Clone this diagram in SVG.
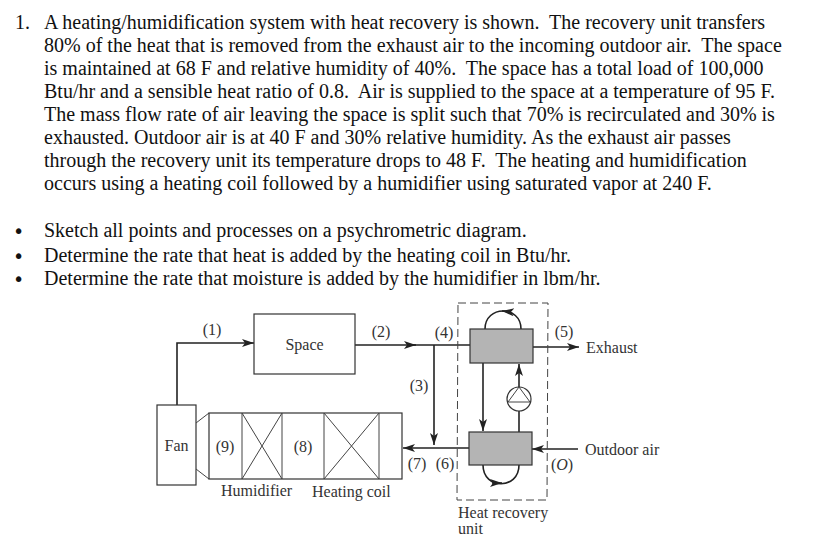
<svg xmlns="http://www.w3.org/2000/svg" width="821" height="556" viewBox="0 0 821 556">
<defs>
<marker id="a" markerWidth="14" markerHeight="10" refX="12" refY="4" orient="auto" markerUnits="userSpaceOnUse"><path d="M0 0L12 4L0 8L3 4Z" fill="#222"/></marker>
</defs>
<style>
.t{font-family:"Liberation Serif","Times New Roman",serif;font-size:20px;fill:#111;white-space:pre}
.u{font-family:"DejaVu Sans",sans-serif;font-size:19px;fill:#111}
.l{font-family:"Liberation Serif","Times New Roman",serif;font-size:16px;fill:#333}
.b{fill:#fff;stroke:#333;stroke-width:1.2}
.h{fill:#b4b4b4;stroke:#333;stroke-width:1.2}
.c{fill:none;stroke:#222;stroke-width:1.6}
.d{fill:none;stroke:#444;stroke-width:1;stroke-dasharray:8 4}
.n{fill:none;stroke:#444;stroke-width:1}
</style>
<rect width="821" height="556" fill="#fff"/>
<g id="problem-text">
<text class="t" x="15" y="29">1.</text>
<text class="t" x="44" y="29">A heating/humidification system with heat recovery is shown.  The recovery unit transfers</text>
<text class="t" x="44" y="52">80% of the heat that is removed from the exhaust air to the incoming outdoor air.  The space</text>
<text class="t" x="44" y="75">is maintained at 68 F and relative humidity of 40%.  The space has a total load of 100,000</text>
<text class="t" x="44" y="98">Btu/hr and a sensible heat ratio of 0.8.  Air is supplied to the space at a temperature of 95 F.</text>
<text class="t" x="44" y="121">The mass flow rate of air leaving the space is split such that 70% is recirculated and 30% is</text>
<text class="t" x="44" y="144">exhausted. Outdoor air is at 40 F and 30% relative humidity. As the exhaust air passes</text>
<text class="t" x="44" y="167">through the recovery unit its temperature drops to 48 F.  The heating and humidification</text>
<text class="t" x="44" y="190">occurs using a heating coil followed by a humidifier using saturated vapor at 240 F.</text>
<text class="u" x="13" y="238">•</text>
<text class="t" x="44" y="237">Sketch all points and processes on a psychrometric diagram.</text>
<text class="u" x="13" y="263">•</text>
<text class="t" x="44" y="262">Determine the rate that heat is added by the heating coil in Btu/hr.</text>
<text class="u" x="13" y="286">•</text>
<text class="t" x="44" y="285">Determine the rate that moisture is added by the humidifier in lbm/hr.</text>
</g>
<g id="connectors">
<path class="c" d="M177 405V343H254" marker-end="url(#a)"/>
<path class="c" d="M355 345H416" marker-end="url(#a)"/>
<path class="c" d="M410 345H470"/>
<path class="c" d="M434 345V445" marker-end="url(#a)"/>
<path class="c" d="M469 448H403" marker-end="url(#a)"/>
<path class="c" d="M533 347H579" marker-end="url(#a)"/>
<path class="c" d="M578 449H532" marker-end="url(#a)"/>
<path class="c" d="M485 329C485 305 521 305 521 329"/>
<path class="c" d="M511 312L502 311" marker-end="url(#a)"/>
<path class="c" d="M483 465C483 490 519 490 519 465"/>
<path class="c" d="M492 483L502 483" marker-end="url(#a)"/>
<path class="c" d="M483 363V431" marker-end="url(#a)"/>
<path class="c" d="M519 432V411"/>
<path class="c" d="M519 387V364" marker-end="url(#a)"/>
</g>
<g id="heat-recovery-unit">
<path class="d" d="M458 303H548L547 500H457Z"/>
<text class="l" x="458" y="518">Heat recovery</text>
<text class="l" x="458" y="534">unit</text>
</g>
<g id="upper-exchanger"><rect class="h" x="470" y="329" width="63" height="34"/></g>
<g id="lower-exchanger"><rect class="h" x="469" y="432" width="63" height="33"/></g>
<g id="pump">
<circle class="b" cx="519" cy="399" r="12"/>
<path class="n" d="M508 402H530L519 387Z"/>
</g>
<g id="space"><rect class="b" x="254" y="314" width="101" height="60"/><text class="l" x="304.500" y="350" text-anchor="middle">Space</text></g>
<g id="fan"><rect class="b" x="157" y="405" width="39" height="80"/><text class="l" x="176.500" y="451" text-anchor="middle">Fan</text></g>
<g id="duct">
<path class="n" d="M196 423L209 413M196 469L209 479"/>
<rect class="b" x="209" y="413" width="193" height="66"/>
<path class="n" d="M242 413V479M282 413V479M324 413V479M379 413V479M242 413L282 479M282 413L242 479M324 413L379 479M379 413L324 479"/>
</g>
<g id="labels">
<text class="l" x="212" y="335" text-anchor="middle">(1)</text>
<text class="l" x="381" y="337" text-anchor="middle">(2)</text>
<text class="l" x="419" y="391" text-anchor="middle">(3)</text>
<text class="l" x="444" y="338" text-anchor="middle">(4)</text>
<text class="l" x="564" y="337" text-anchor="middle">(5)</text>
<text class="l" x="417" y="469" text-anchor="middle">(7)</text>
<text class="l" x="445" y="469" text-anchor="middle">(6)</text>
<text class="l" x="562" y="470" text-anchor="middle">(<tspan font-style="italic">O</tspan>)</text>
<text class="l" x="225" y="452" text-anchor="middle">(9)</text>
<text class="l" x="303" y="452" text-anchor="middle">(8)</text>
<text class="l" x="586" y="353">Exhaust</text>
<text class="l" x="585" y="455">Outdoor air</text>
<text class="l" x="221" y="496">Humidifier</text>
<text class="l" x="312" y="497">Heating coil</text>
</g>
</svg>
